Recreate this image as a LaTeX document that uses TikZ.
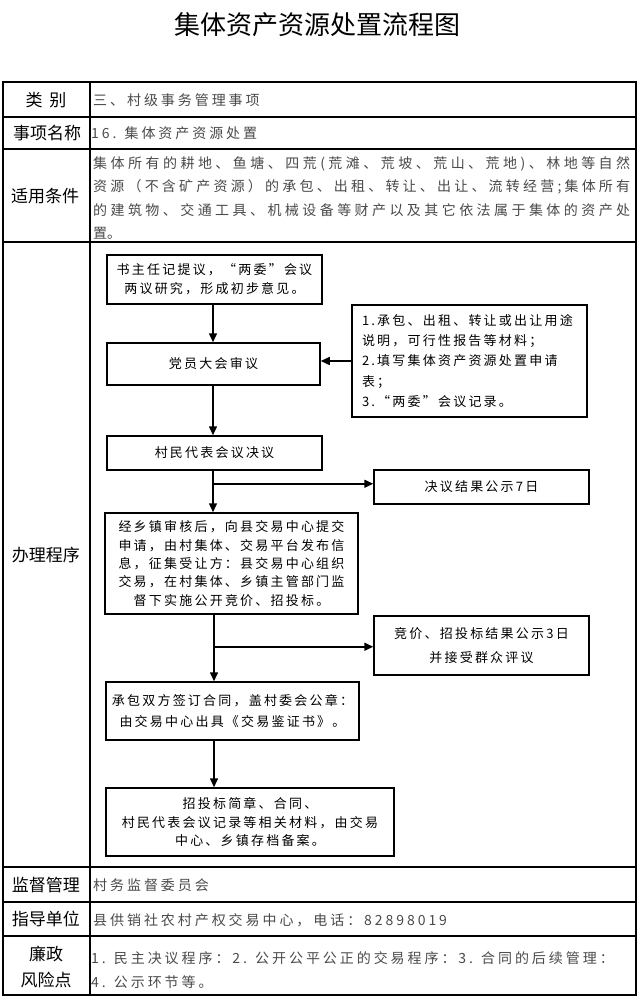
\documentclass[tikz,border=0pt]{standalone}
\usepackage{fontspec}
\setmainfont{Noto Sans CJK SC}
\newfontfamily\tfont{Noto Sans CJK SC}
\newfontfamily\rfont[LetterSpace=21]{Noto Sans CJK SC}
\newfontfamily\bfont[LetterSpace=17]{Noto Sans CJK SC}
\usetikzlibrary{arrows.meta}
\makeatletter
\def\sprd#1{\sprd@#1\@nil}
\def\sprd@#1#2\@nil{#1\ifx\relax#2\relax\else\hfil\sprd@#2\@nil\fi}
\makeatother
\definecolor{rgray}{HTML}{4A4A4A}
\begin{document}
\begin{tikzpicture}[x=1pt,y=-1pt,
  tline/.style={line width=1.8pt},
  lab/.style={inner sep=0, font=\tfont\fontsize{17}{26}\selectfont, align=center},
  rtxt/.style={inner sep=0, anchor=west, text=rgray, font=\rfont\fontsize{14}{17}\selectfont},
  jtxt/.style={inner sep=0, anchor=west, text=rgray, font=\tfont\fontsize{14}{17}\selectfont},
  fbox/.style={draw, line width=1.5pt, inner sep=0, align=center, font=\bfont\fontsize{13}{19}\selectfont},
  arr/.style={line width=1.5pt, -{Triangle[length=9pt,width=8pt]}},
]
\useasboundingbox (0,0) rectangle (640,998);
\fill[white] (0,0) rectangle (640,998);

% title
\node[inner sep=0, font=\tfont\fontsize{26}{30}\selectfont] (title) at (317,25) {集体资产资源处置流程图};

% table
\draw[tline] (3,82) rectangle (636,995);
\foreach \yy in {117,149,242,867,902,936} \draw[tline] (3,\yy) -- (636,\yy);
\draw[tline] (90,82) -- (90,995);

% left labels
\node[lab] (l1) at (46,100) {类\hspace{7pt}别};
\node[lab] (l2) at (47,133) {事项名称};
\node[lab] (l3) at (45,196) {适用条件};
\node[lab] (l4) at (46,555) {办理程序};
\node[lab] (l5) at (46,885) {监督管理};
\node[lab] (l6) at (46,919) {指导单位};
\node[lab] (l7) at (46,967) {廉政\\风险点};

% right texts
\node[rtxt] (r1) at (93,100) {三、村级事务管理事项};
\node[rtxt] (r2) at (91,133) {16. 集体资产资源处置};
\node[jtxt] (r3a) at (93,164) {\hbox to 537pt{\sprd{集体所有的耕地、鱼塘、四荒(荒滩、荒坡、荒山、荒地)、林地等自然}}};
\node[jtxt] (r3b) at (93,187) {\hbox to 537pt{\sprd{资源（不含矿产资源）的承包、出租、转让、出让、流转经营;集体所有}}};
\node[jtxt] (r3c) at (93,210) {\hbox to 537pt{\sprd{的建筑物、交通工具、机械设备等财产以及其它依法属于集体的资产处}}};
\node[jtxt] (r3d) at (93,233) {置。};
\node[rtxt] (r5) at (93,885) {村务监督委员会};
\node[rtxt] (r6) at (93,920) {县供销社农村产权交易中心，电话：82898019};
\node[rtxt] (r7a) at (91,958) {1. 民主决议程序：2. 公开公平公正的交易程序：3. 合同的后续管理：};
\node[rtxt] (r7b) at (91,982) {4. 公示环节等。};

% flowchart boxes
\node[fbox, minimum width=215pt, minimum height=49pt] (A) at (214.5,279.5) {书主任记提议，“两委”会议\\两议研究，形成初步意见。};
\node[fbox, minimum width=213pt, minimum height=42pt] (B) at (213.5,364) {党员大会审议};
\node[fbox, minimum width=235pt, minimum height=112pt, align=left, text width=215pt, font=\bfont\fontsize{13}{20.2}\selectfont] (C) at (469.5,361) {1.承包、出租、转让或出让用途\\说明，可行性报告等材料；\\2.填写集体资产资源处置申请\\表；\\3.“两委”会议记录。};
\node[fbox, minimum width=215pt, minimum height=34pt] (D) at (214.5,453) {村民代表会议决议};
\node[fbox, minimum width=215pt, minimum height=34pt] (E) at (481.5,487) {决议结果公示7日};
\node[fbox, minimum width=253pt, minimum height=101pt, font=\bfont\fontsize{13}{18.3}\selectfont] (F) at (231.5,563.5) {经乡镇审核后，向县交易中心提交\\申请，由村集体、交易平台发布信\\息，征集受让方：县交易中心组织\\交易，在村集体、乡镇主管部门监\\督下实施公开竞价、招投标。};
\node[fbox, minimum width=215pt, minimum height=59pt, font=\bfont\fontsize{13}{24}\selectfont] (G) at (481.5,645.5) {竞价、招投标结果公示3日\\并接受群众评议};
\node[fbox, minimum width=253pt, minimum height=58pt, font=\bfont\fontsize{13}{21}\selectfont] (H) at (232.5,711) {承包双方签订合同，盖村委会公章：\\由交易中心出具《交易鉴证书》。};
\node[fbox, minimum width=288pt, minimum height=68pt, font=\bfont\fontsize{13}{18.5}\selectfont] (I) at (250,822) {招投标简章、合同、\\村民代表会议记录等相关材料，由交易\\中心、乡镇存档备案。};

% connectors
\draw[arr] ([xshift=-1.5pt]A.south) -- ([xshift=-1.5pt]A.south |- B.north);
\draw[arr] ([xshift=-0.5pt]B.south) -- ([xshift=-0.5pt]B.south |- D.north);
\draw[arr] (C.west) -- (C.west -| B.east);
\draw[arr] ([xshift=-1.5pt]D.south) -- ([xshift=-1.5pt]D.south |- F.north);
\coordinate (b1) at ([xshift=-1.5pt,yshift=-13pt]D.south);
\draw[arr] (b1) -- (b1 -| E.west);
\coordinate (fx) at ([xshift=-0.5pt]D.south |- F.south);
\draw[arr] (fx) -- (fx |- H.north);
\coordinate (b2) at ([yshift=-32pt]fx);
\draw[arr] (b2) -- (b2 -| G.west);
\coordinate (hx) at (fx |- H.south);
\draw[arr] (hx) -- (hx |- I.north);
\end{tikzpicture}
\end{document}
